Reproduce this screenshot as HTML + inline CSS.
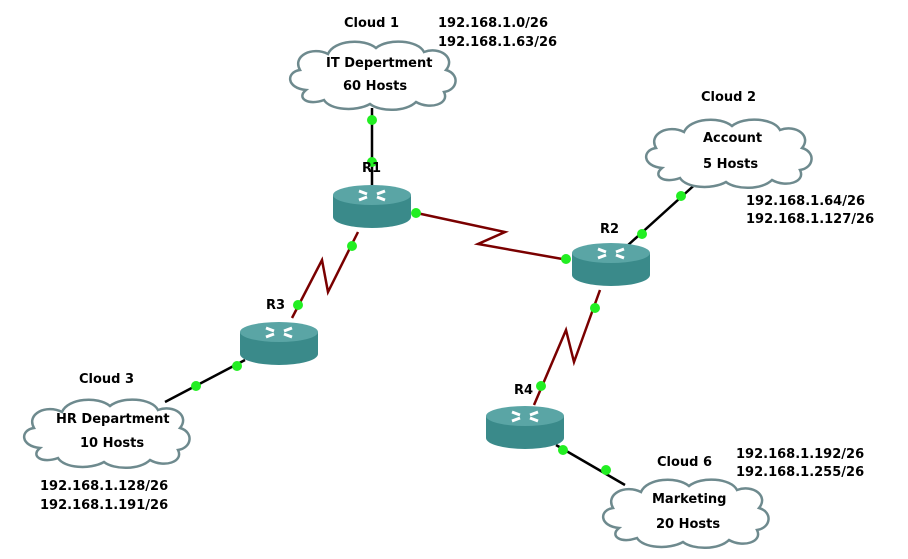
<!DOCTYPE html><html><head><style>body{margin:0;background:#fff}svg{display:block}text{font-family:"DejaVu Sans","Liberation Sans",sans-serif;font-weight:bold;font-size:13px;fill:#000}</style></head><body>
<svg width="908" height="559" viewBox="0 0 908 559">
<defs>
<path id="cl" d="M22,52 C2,50 2,34 16,32 C8,18 28,8 44,16 C50,2 80,0 92,10 C104,0 134,2 140,14 C156,8 172,20 162,32 C176,36 174,52 160,54 C166,66 146,72 132,64 C122,74 96,74 86,66 C72,74 46,72 40,62 C24,68 12,60 22,52 Z" fill="#fff" stroke="#6e8a8e" stroke-width="2.5"/>
<g id="rt">
<path d="M0,10 L0,32 A39,11 0 0 0 78,32 L78,10 Z" fill="#3a8a8a"/>
<ellipse cx="39" cy="10" rx="39" ry="10" fill="#5aa5a5"/>
<path d="M26,6 l8,3 M52,6 l-8,3 M26,15 l8,-3 M52,15 l-8,-3" stroke="#fff" stroke-width="3"/>
</g>
</defs>
<g stroke="#000" stroke-width="2.5" fill="none">
<line x1="372" y1="108" x2="372" y2="186"/>
<line x1="627" y1="246" x2="700" y2="180"/>
<line x1="245" y1="360" x2="165" y2="402"/>
<line x1="556" y1="445" x2="625" y2="485"/>
</g>
<g stroke="#7a0000" stroke-width="2.5" fill="none">
<polyline points="412,212 505,232 478,244 568,260"/>
<polyline points="358,232 328,292 322,260 292,318"/>
<polyline points="600,290 574,362 566,330 534,405"/>
</g>
<use href="#cl" x="284" y="38"/>
<use href="#cl" x="640" y="116"/>
<use href="#cl" x="18" y="396"/>
<use href="#cl" x="597" y="476"/>
<use href="#rt" x="333" y="185"/>
<use href="#rt" x="572" y="243"/>
<use href="#rt" x="240" y="322"/>
<use href="#rt" x="486" y="406"/>
<g fill="#22ee22">
<circle cx="372" cy="120" r="5"/><circle cx="372" cy="162" r="5"/>
<circle cx="416" cy="213" r="5"/><circle cx="566" cy="259" r="5"/>
<circle cx="352" cy="246" r="5"/><circle cx="298" cy="305" r="5"/>
<circle cx="642" cy="234" r="5"/><circle cx="681" cy="196" r="5"/>
<circle cx="595" cy="308" r="5"/><circle cx="541" cy="386" r="5"/>
<circle cx="237" cy="366" r="5"/><circle cx="196" cy="386" r="5"/>
<circle cx="563" cy="450" r="5"/><circle cx="606" cy="470" r="5"/>
</g>
<text x="344" y="27">Cloud 1</text>
<text x="438" y="27">192.168.1.0/26</text>
<text x="438" y="46">192.168.1.63/26</text>
<text x="326" y="67">IT Depertment</text>
<text x="343" y="90">60 Hosts</text>
<text x="362" y="172">R1</text>
<text x="701" y="101">Cloud 2</text>
<text x="703" y="142">Account</text>
<text x="703" y="168">5 Hosts</text>
<text x="746" y="205">192.168.1.64/26</text>
<text x="746" y="223">192.168.1.127/26</text>
<text x="600" y="233">R2</text>
<text x="266" y="309">R3</text>
<text x="79" y="383">Cloud 3</text>
<text x="56" y="423">HR Department</text>
<text x="80" y="447">10 Hosts</text>
<text x="40" y="490">192.168.1.128/26</text>
<text x="40" y="509">192.168.1.191/26</text>
<text x="514" y="394">R4</text>
<text x="736" y="458">192.168.1.192/26</text>
<text x="736" y="476">192.168.1.255/26</text>
<text x="657" y="466">Cloud 6</text>
<text x="652" y="503">Marketing</text>
<text x="656" y="528">20 Hosts</text>
</svg></body></html>
